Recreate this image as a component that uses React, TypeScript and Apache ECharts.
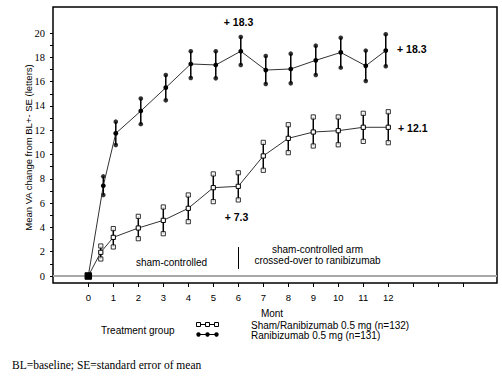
import React, { useEffect, useRef } from "react";
import * as echarts from "echarts";

// ---- data ----
const shamName = "Sham/Ranibizumab 0.5 mg (n=132)";
const ranibName = "Ranibizumab 0.5 mg (n=131)";

const shamMonths = [0, 0.5, 1, 2, 3, 4, 5, 6, 7, 8, 9, 10, 11, 12];
const shamMean = [0, 1.95, 3.18, 3.95, 4.58, 5.57, 7.27, 7.38, 9.88, 11.33, 11.85, 11.96, 12.24, 12.24];
const shamUpper = [null, 2.47, 3.9, 4.91, 5.68, 6.67, 8.4, 8.5, 11.0, 12.45, 13.09, 13.09, 13.39, 13.52];
const shamLower = [null, 1.4, 2.39, 3.07, 3.48, 4.47, 6.12, 6.26, 8.7, 10.15, 10.7, 10.8, 11.08, 10.97];

const ranibMonths = [0, 0.6, 1.1, 2.1, 3.1, 4.1, 5.1, 6.1, 7.1, 8.1, 9.1, 10.1, 11.1, 11.9];
const ranibMean = [0, 7.43, 11.74, 13.58, 15.5, 17.45, 17.37, 18.5, 16.95, 17.04, 17.75, 18.4, 17.3, 18.55];
const ranibUpper = [null, 8.2, 12.7, 14.6, 16.54, 18.5, 18.5, 19.67, 18.1, 18.3, 18.96, 19.6, 18.55, 19.9];
const ranibLower = [null, 6.67, 10.78, 12.5, 14.46, 16.3, 16.27, 17.37, 15.8, 15.86, 16.54, 17.15, 16.05, 17.26];

const xTickValues = [0, 1, 2, 3, 4, 5, 6, 7, 8, 9, 10, 11, 12, 13, 14, 15];
const xLabelValues = [0, 1, 2, 3, 4, 5, 6, 7, 8, 9, 10, 11, 12];
const yTickValues = [0, 1, 2, 3, 4, 5, 6, 7, 8, 9, 10, 11, 12, 13, 14, 15, 16, 17, 18, 19, 20];
const yLabelValues = [0, 2, 4, 6, 8, 10, 12, 14, 16, 18, 20];

const annotations = ["+ 18.3", "+ 18.3", "+ 12.1", "+ 7.3"];
const phaseLabels = ["sham-controlled", "sham-controlled arm\ncrossed-over to ranibizumab"];
const xAxisName = "Mont";
const yAxisName = "Mean VA change from BL+- SE (letters)";
const legendTitle = "Treatment group";
const footnote = "BL=baseline; SE=standard error of mean";

const SANS = "'Liberation Sans', Arial, sans-serif";
const SERIF = "'Liberation Serif', 'Times New Roman', serif";

function barData(months: number[], lower: (number | null)[], upper: (number | null)[]) {
  const out: number[][] = [];
  months.forEach((m, i) => {
    if (lower[i] != null && upper[i] != null) out.push([m, lower[i] as number, upper[i] as number]);
  });
  return out;
}
function endData(months: number[], lower: (number | null)[], upper: (number | null)[]) {
  const out: number[][] = [];
  months.forEach((m, i) => {
    if (upper[i] != null) out.push([m, upper[i] as number]);
    if (lower[i] != null) out.push([m, lower[i] as number]);
  });
  return out;
}

const renderBar = (params: any, api: any) => {
  const p1 = api.coord([api.value(0), api.value(1)]);
  const p2 = api.coord([api.value(0), api.value(2)]);
  return {
    type: "line",
    shape: { x1: p1[0], y1: p1[1], x2: p2[0], y2: p2[1] },
    style: { stroke: "#000", lineWidth: 1.5 },
  };
};

export default function App() {
  const ref = useRef<HTMLDivElement>(null);
  useEffect(() => {
    if (!ref.current) return;
    const chart = echarts.init(ref.current, undefined, { renderer: "svg" });
    const hollow = { color: "#fff", borderColor: "#000", borderWidth: 1 };
    const option: any = {
      animation: false,
      backgroundColor: "#fff",
      grid: {
        left: 53, top: 7, width: 444, height: 276,
        show: true, borderColor: "#000", borderWidth: 1.5, backgroundColor: "transparent",
      },
      xAxis: {
        type: "value", min: -1.412, max: 16.35,
        axisLine: { show: false, onZero: false },
        splitLine: { show: false },
        axisTick: { show: true, length: 4, customValues: xTickValues, lineStyle: { color: "#000", width: 1 } },
        axisLabel: { customValues: xLabelValues, color: "#000", fontFamily: SANS, fontSize: 9.5, margin: 9 },
      },
      yAxis: {
        type: "value", min: -0.576, max: 22.14,
        axisLine: { show: false, onZero: false },
        splitLine: { show: false },
        axisTick: { show: true, length: 3, customValues: yTickValues, lineStyle: { color: "#000", width: 1 } },
        axisLabel: { customValues: yLabelValues, color: "#000", fontFamily: SERIF, fontSize: 10.5, margin: 8 },
      },
      series: [
        {
          type: "custom", name: ranibName + " SE", renderItem: renderBar,
          data: barData(ranibMonths, ranibLower, ranibUpper), encode: { x: 0, y: [1, 2] }, z: 2,
          markLine: {
            silent: true, symbol: "none", label: { show: false },
            lineStyle: { color: "#a8a8a8", width: 2, type: "solid" },
            data: [{ yAxis: 0 }],
          },
        },
        {
          type: "custom", name: shamName + " SE", renderItem: renderBar,
          data: barData(shamMonths, shamLower, shamUpper), encode: { x: 0, y: [1, 2] }, z: 2,
        },
        {
          type: "scatter", name: ranibName + " ends", symbol: "circle", symbolSize: 4.6,
          itemStyle: { color: "#000" }, data: endData(ranibMonths, ranibLower, ranibUpper), z: 3,
        },
        {
          type: "scatter", name: shamName + " ends", symbol: "rect", symbolSize: 4.2,
          itemStyle: hollow, data: endData(shamMonths, shamLower, shamUpper), z: 3,
        },
        {
          type: "line", name: ranibName, symbol: "circle", symbolSize: 4.8, showAllSymbol: true,
          itemStyle: { color: "#000" }, lineStyle: { color: "#333", width: 1 },
          data: ranibMonths.map((m, i) => [m, ranibMean[i]]), z: 4,
        },
        {
          type: "line", name: shamName, symbol: "rect", symbolSize: 4.2, showAllSymbol: true,
          itemStyle: hollow, lineStyle: { color: "#333", width: 1 },
          data: shamMonths.map((m, i) =>
            i === 0
              ? { value: [m, shamMean[i]], symbolSize: 6.5, itemStyle: { color: "#000", borderColor: "#000" } }
              : [m, shamMean[i]]
          ),
          z: 5,
        },
      ],
      graphic: [
        { type: "text", x: 238.5, y: 22, style: { text: annotations[0], font: `bold 10.5px ${SANS}`, fill: "#000", align: "center", verticalAlign: "middle" } },
        { type: "text", x: 397, y: 48.5, style: { text: annotations[1], font: `bold 10.5px ${SANS}`, fill: "#000", align: "left", verticalAlign: "middle" } },
        { type: "text", x: 398, y: 127.5, style: { text: annotations[2], font: `bold 10.5px ${SANS}`, fill: "#000", align: "left", verticalAlign: "middle" } },
        { type: "text", x: 236.5, y: 216.5, style: { text: annotations[3], font: `bold 10.5px ${SANS}`, fill: "#000", align: "center", verticalAlign: "middle" } },
        { type: "text", x: 171.5, y: 262, style: { text: phaseLabels[0], font: `10px ${SANS}`, fill: "#000", align: "center", verticalAlign: "middle" } },
        { type: "text", x: 317.5, y: 255, style: { text: phaseLabels[1], font: `10px ${SANS}`, fill: "#000", align: "center", verticalAlign: "middle", lineHeight: 11.7 } },
        { type: "line", shape: { x1: 238.5, y1: 247, x2: 238.5, y2: 269 }, style: { stroke: "#000", lineWidth: 1 } },
        { type: "text", x: 272, y: 313.5, style: { text: xAxisName, font: `10px ${SANS}`, fill: "#000", align: "center", verticalAlign: "middle" } },
        { type: "text", x: 28.5, y: 147.5, rotation: Math.PI / 2, style: { text: yAxisName, font: `9.5px ${SANS}`, fill: "#000", align: "center", verticalAlign: "middle" } },
        { type: "text", x: 101, y: 330.5, style: { text: legendTitle, font: `10px ${SANS}`, fill: "#000", align: "left", verticalAlign: "middle" } },
        { type: "line", shape: { x1: 198, y1: 324.5, x2: 217, y2: 324.5 }, style: { stroke: "#000", lineWidth: 1 } },
        { type: "rect", shape: { x: 196.5, y: 322.5, width: 4, height: 4 }, style: { fill: "#fff", stroke: "#000", lineWidth: 1 } },
        { type: "rect", shape: { x: 205.5, y: 322.5, width: 4, height: 4 }, style: { fill: "#fff", stroke: "#000", lineWidth: 1 } },
        { type: "rect", shape: { x: 214.5, y: 322.5, width: 4, height: 4 }, style: { fill: "#fff", stroke: "#000", lineWidth: 1 } },
        { type: "line", shape: { x1: 198, y1: 334.5, x2: 217, y2: 334.5 }, style: { stroke: "#000", lineWidth: 1 } },
        { type: "circle", shape: { cx: 198.5, cy: 334.5, r: 2.2 }, style: { fill: "#000" } },
        { type: "circle", shape: { cx: 207.5, cy: 334.5, r: 2.2 }, style: { fill: "#000" } },
        { type: "circle", shape: { cx: 216.5, cy: 334.5, r: 2.2 }, style: { fill: "#000" } },
        { type: "text", x: 251, y: 325, style: { text: shamName, font: `10px ${SANS}`, fill: "#000", align: "left", verticalAlign: "middle" } },
        { type: "text", x: 251, y: 335, style: { text: ranibName, font: `10px ${SANS}`, fill: "#000", align: "left", verticalAlign: "middle" } },
        { type: "text", x: 12, y: 365, style: { text: footnote, font: `11.5px ${SERIF}`, fill: "#000", align: "left", verticalAlign: "middle" } },
      ],
    };
    chart.setOption(option);
    return () => chart.dispose();
  }, []);
  return (
    <div
      ref={ref}
      style={{ position: "absolute", left: 0, top: 0, width: 502, height: 376, background: "#fff" }}
    />
  );
}
